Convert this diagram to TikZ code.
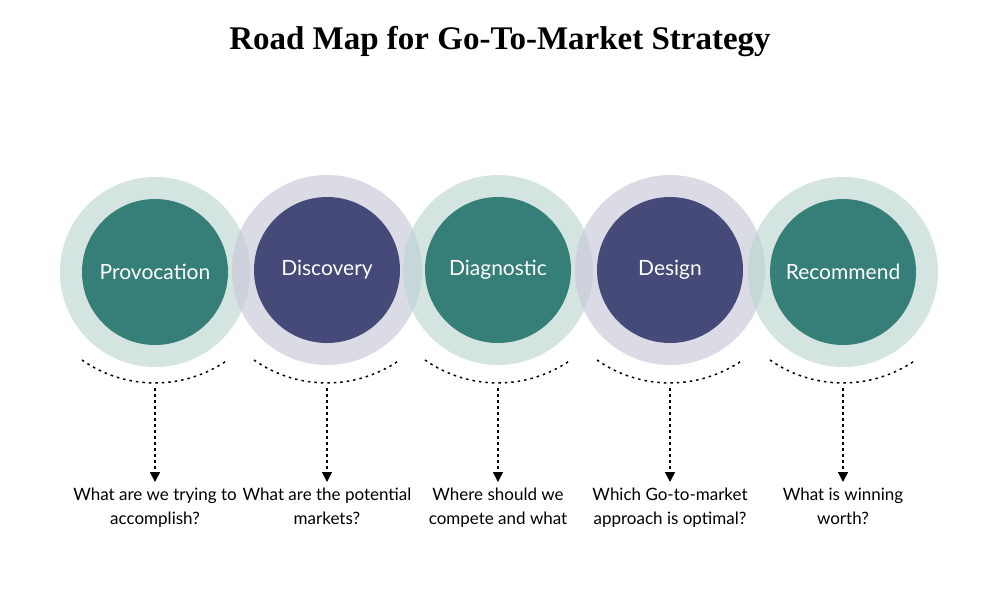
\documentclass[tikz,border=0pt]{standalone}
\usepackage{fontspec}
\setmainfont{Lato}
\newfontfamily\titlefont{Liberation Serif}
\usetikzlibrary{arrows.meta}
\definecolor{tealdk}{HTML}{357F78}
\definecolor{navy}{HTML}{454A78}
\definecolor{teallt}{HTML}{BCD6D2}
\definecolor{lavlt}{HTML}{C9C8DA}
\begin{document}
\begin{tikzpicture}[x=1pt,y=-1pt,
  outer/.style={circle,minimum size=190pt,inner sep=0pt,fill opacity=0.65},
  inner/.style={circle,minimum size=146pt,inner sep=0pt,text=white,font=\fontsize{21}{24}\selectfont},
  arcline/.style={line width=1.5pt,dash pattern=on 2.5pt off 4pt},
  arr/.style={line width=1.5pt,dash pattern=on 3pt off 3pt,-{Triangle[length=10pt,width=10pt]}},
  q/.style={align=center,font=\fontsize{17}{24}\selectfont,anchor=north}]
\useasboundingbox (0,0) rectangle (1000,600);
\fill[white] (0,0) rectangle (1000,600);
\node[font=\titlefont\bfseries\fontsize{33}{38}\selectfont] (title) at (500,42) {Road Map for Go-To-Market Strategy};
\foreach \n/\x/\y/\oc in {a/155/272/teallt, b/327/270/lavlt, c/498/270/teallt, d/670/270/lavlt, e/843/272/teallt}{
  \node[outer,fill=\oc] (o\n) at (\x,\y) {};
}
\foreach \n/\x/\y/\ic/\t/\qq in {
  a/155/272/tealdk/Provocation/{What are we trying to\\accomplish?},
  b/327/270/navy/Discovery/{What are the potential\\markets?},
  c/498/270/tealdk/Diagnostic/{Where should we\\compete and what},
  d/670/270/navy/Design/{Which Go-to-market\\approach is optimal?},
  e/843/272/tealdk/Recommend/{What is winning\\worth?}}{
  \node[inner,fill=\ic] (i\n) at (\x,\y) {\t};
  \coordinate (l\n) at ([xshift=-73pt]\x,360);
  \coordinate (m\n) at (\x,388);
  \coordinate (t\n) at (\x,482);
  \draw[arcline] (l\n) arc[start angle=235,end angle=305,radius=127pt];
  \draw[arr] (m\n) -- (t\n);
  \node[q] (q\n) at (\x,484) {\qq};
}
\end{tikzpicture}
\end{document}
